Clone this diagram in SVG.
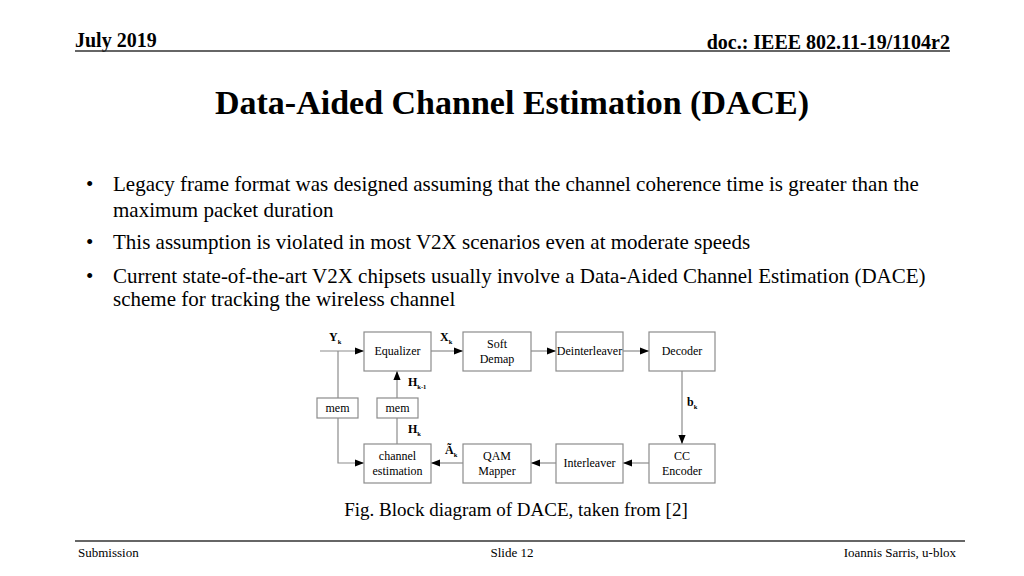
<svg xmlns="http://www.w3.org/2000/svg" width="1024" height="576" viewBox="0 0 1024 576">
<style>
text{font-family:"Liberation Serif","Times New Roman",serif;fill:#000}
.hdr{font-weight:bold;font-size:20px}
.ftr{font-size:13px}
.title{font-weight:bold;font-size:34px}
.body{font-size:21px}
.box{fill:#fff;stroke:#8c8c8c;stroke-width:1.2}
.lbl{font-size:12px;text-anchor:middle}
.sym{font-size:12px;font-weight:bold}
.sub{font-size:6.5px}
.ln{fill:none;stroke:#8c8c8c;stroke-width:1.2}
.cap{font-size:19px;text-anchor:middle}
</style>
<defs>
<marker id="ah" viewBox="0 0 10 10" refX="10" refY="5" markerWidth="9" markerHeight="9" markerUnits="userSpaceOnUse" orient="auto">
<path d="M0,1 L10,5 L0,9 Z" fill="#000"/>
</marker>
</defs>
<rect width="1024" height="576" fill="#fff"/>
<g id="header">
<text class="hdr" x="75" y="47">July 2019</text>
<text class="hdr" x="950" y="49" text-anchor="end">doc.: IEEE 802.11-19/1104r2</text>
<line x1="75" y1="51" x2="950" y2="51" stroke="#333" stroke-width="1.5"/>
</g>
<g id="title">
<text class="title" x="512" y="114" text-anchor="middle">Data-Aided Channel Estimation (DACE)</text>
</g>
<g id="bullets">
<text class="body" x="86" y="191">•</text>
<text class="body" x="113" y="191">Legacy frame format was designed assuming that the channel coherence time is greater than the</text>
<text class="body" x="113" y="217">maximum packet duration</text>
<text class="body" x="86" y="249">•</text>
<text class="body" x="113" y="249">This assumption is violated in most V2X scenarios even at moderate speeds</text>
<text class="body" x="86" y="283">•</text>
<text class="body" x="113" y="283">Current state-of-the-art V2X chipsets usually involve a Data-Aided Channel Estimation (DACE)</text>
<text class="body" x="113" y="306">scheme for tracking the wireless channel</text>
</g>
<g id="connectors">
<line class="ln" x1="320" y1="351" x2="364" y2="351" marker-end="url(#ah)"/>
<line class="ln" x1="338" y1="351" x2="338" y2="398"/>
<polyline class="ln" points="338,418 338,463 364,463" marker-end="url(#ah)"/>
<line class="ln" x1="397" y1="444" x2="397" y2="418"/>
<line class="ln" x1="397" y1="398" x2="397" y2="371" marker-end="url(#ah)"/>
<line class="ln" x1="431" y1="351" x2="463" y2="351" marker-end="url(#ah)"/>
<line class="ln" x1="531" y1="351" x2="556" y2="351" marker-end="url(#ah)"/>
<line class="ln" x1="623" y1="351" x2="649" y2="351" marker-end="url(#ah)"/>
<line class="ln" x1="682" y1="371" x2="682" y2="444" marker-end="url(#ah)"/>
<line class="ln" x1="649" y1="463" x2="623" y2="463" marker-end="url(#ah)"/>
<line class="ln" x1="556" y1="463" x2="531" y2="463" marker-end="url(#ah)"/>
<line class="ln" x1="463" y1="463" x2="431" y2="463" marker-end="url(#ah)"/>
<text class="sym" x="329" y="341">Y<tspan class="sub" dy="3">k</tspan></text>
<text class="sym" x="440" y="341">X<tspan class="sub" dy="3">k</tspan></text>
<text class="sym" x="408" y="386">H<tspan class="sub" dy="3">k-1</tspan></text>
<text class="sym" x="408" y="433">H<tspan class="sub" dy="3">k</tspan></text>
<text class="sym" x="445" y="454">Ã<tspan class="sub" dy="3">k</tspan></text>
<text class="sym" x="687" y="406">b<tspan class="sub" dy="3">k</tspan></text>
</g>
<g id="equalizer">
<rect class="box" x="364" y="332" width="67" height="39"/>
<text class="lbl" x="397.5" y="355">Equalizer</text>
</g>
<g id="soft-demap">
<rect class="box" x="463" y="332" width="68" height="39"/>
<text class="lbl" x="497" y="348">Soft</text>
<text class="lbl" x="497" y="363">Demap</text>
</g>
<g id="deinterleaver">
<rect class="box" x="556" y="332" width="67" height="39"/>
<text class="lbl" x="589.5" y="355">Deinterleaver</text>
</g>
<g id="decoder">
<rect class="box" x="649" y="332" width="66" height="39"/>
<text class="lbl" x="682" y="355">Decoder</text>
</g>
<g id="mem1">
<rect class="box" x="317" y="398" width="41" height="20"/>
<text class="lbl" x="337.5" y="412">mem</text>
</g>
<g id="mem2">
<rect class="box" x="377" y="398" width="41" height="20"/>
<text class="lbl" x="397.5" y="412">mem</text>
</g>
<g id="channel-estimation">
<rect class="box" x="364" y="444" width="67" height="39"/>
<text class="lbl" x="397.5" y="460">channel</text>
<text class="lbl" x="397.5" y="475">estimation</text>
</g>
<g id="qam-mapper">
<rect class="box" x="463" y="444" width="68" height="39"/>
<text class="lbl" x="497" y="460">QAM</text>
<text class="lbl" x="497" y="475">Mapper</text>
</g>
<g id="interleaver">
<rect class="box" x="556" y="444" width="67" height="39"/>
<text class="lbl" x="589.5" y="467">Interleaver</text>
</g>
<g id="cc-encoder">
<rect class="box" x="649" y="444" width="66" height="39"/>
<text class="lbl" x="682" y="460">CC</text>
<text class="lbl" x="682" y="475">Encoder</text>
</g>
<g id="caption">
<text class="cap" x="516" y="516">Fig. Block diagram of DACE, taken from [2]</text>
</g>
<g id="footer">
<line x1="75" y1="541" x2="965" y2="541" stroke="#333" stroke-width="1.5"/>
<text class="ftr" x="78" y="557">Submission</text>
<text class="ftr" x="512" y="557" text-anchor="middle">Slide 12</text>
<text class="ftr" x="956" y="557" text-anchor="end">Ioannis Sarris, u-blox</text>
</g>
</svg>
